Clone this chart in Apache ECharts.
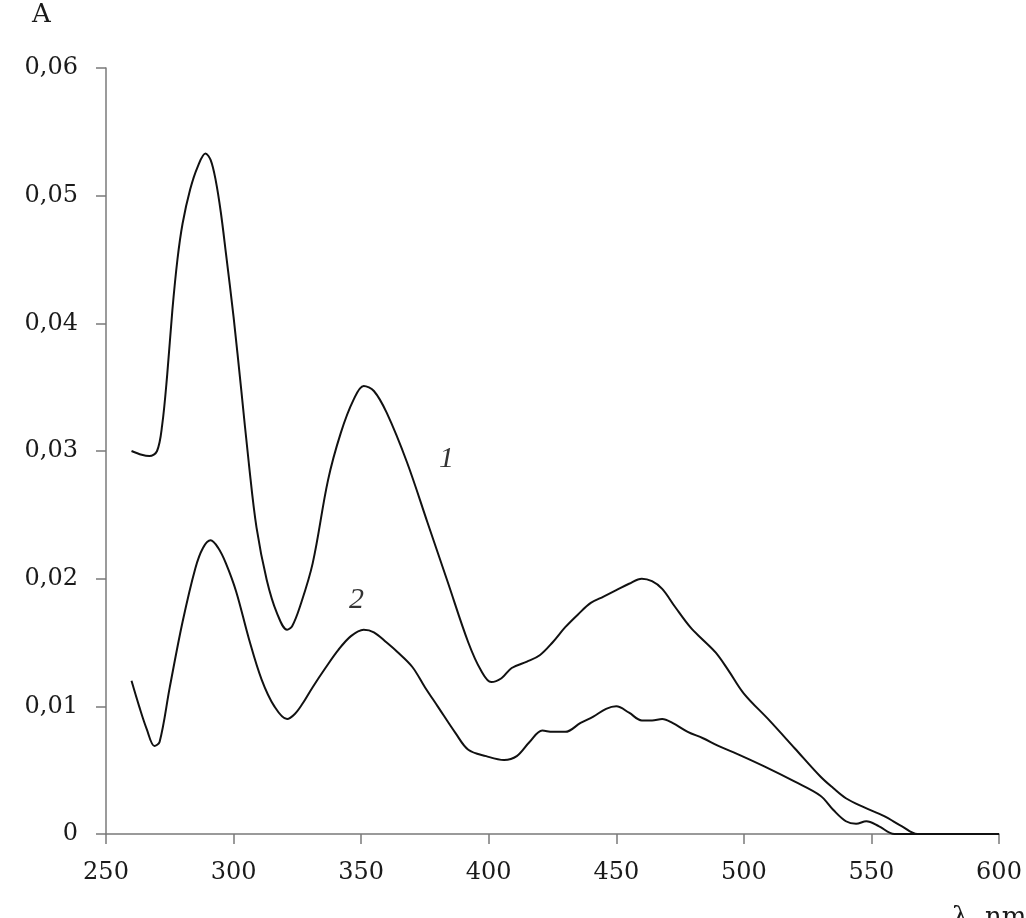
<!DOCTYPE html>
<html>
<head>
<meta charset="utf-8">
<script src="https://cdn.jsdelivr.net/npm/echarts@6/dist/echarts.min.js"></script>
<style>html,body{margin:0;padding:0;background:#fff}#c{width:1026px;height:918px}</style>
</head>
<body>
<div id="c"></div>
<script>
const xTicks = [250, 300, 350, 400, 450, 500, 550, 600];
const yTicks = [0, 0.01, 0.02, 0.03, 0.04, 0.05, 0.06];

const wavelength1 = [260,264,267,270,272,274,276,278,280,283,286,289,291,293,295,297,300,303,306,309,313,317,321,323,326,331,337,342,347,351,355,360,368,376,384,392,397,401,405,409,415,420,425,430,435,440,445,450,455,460,464,468,473,479,484,489,494,500,510,520,530,535,540,547,555,562,568,580,600];
const absorb1 = [0.0300,0.0297,0.0296,0.0300,0.0320,0.0360,0.0410,0.0450,0.0478,0.0505,0.0523,0.0533,0.0528,0.0512,0.0487,0.0455,0.0405,0.0348,0.0290,0.0240,0.0199,0.0173,0.0160,0.0163,0.0178,0.0212,0.0277,0.0314,0.0340,0.0351,0.0347,0.0330,0.0291,0.0244,0.0197,0.0150,0.0128,0.0119,0.0122,0.0130,0.0135,0.0140,0.0150,0.0162,0.0172,0.0181,0.0186,0.0191,0.0196,0.0200,0.0198,0.0192,0.0178,0.0162,0.0152,0.0142,0.0128,0.0110,0.0089,0.0067,0.0045,0.0036,0.0028,0.0021,0.0014,0.0006,0.0000,0,0];

const wavelength2 = [260,263,266,269,271,275,280,285,288,291,294,297,301,306,311,316,321,324,327,331,336,341,346,351,355,360,364,370,375,380,387,392,399,406,411,416,421,425,430,436,441,446,450,455,460,464,468,472,478,484,490,496,508,520,530,535,540,544,548,553,559,600];
const absorb2 = [0.0120,0.0100,0.0082,0.0069,0.0072,0.0115,0.0166,0.0208,0.0224,0.0230,0.0224,0.0212,0.0190,0.0153,0.0121,0.0100,0.0090,0.0094,0.0102,0.0115,0.0130,0.0144,0.0155,0.0160,0.0158,0.0150,0.0143,0.0131,0.0115,0.0100,0.0079,0.0066,0.0061,0.0058,0.0061,0.0072,0.0081,0.0080,0.0080,0.0087,0.0092,0.0098,0.0100,0.0095,0.0089,0.0089,0.0090,0.0087,0.0080,0.0075,0.0069,0.0064,0.0053,0.0041,0.0030,0.0019,0.0010,0.0008,0.0010,0.0006,0.0000,0];

const curveLabels = ['1', '2'];
const labelPos = [[383.5, 0.0294], [348.2, 0.0183]];

const pairs = (xs, ys) => xs.map((x, i) => [x, ys[i]]);
const serif = '"DejaVu Serif", "Liberation Serif", serif';
const timesLike = '"Liberation Serif", "DejaVu Serif", serif';

const chart = echarts.init(document.getElementById('c'), null, {renderer: 'canvas'});
chart.setOption({
  animation: false,
  backgroundColor: '#fff',
  grid: {left: 106, right: 27, top: 68, bottom: 84, containLabel: false},
  xAxis: {
    type: 'value', min: xTicks[0], max: xTicks[xTicks.length - 1], interval: 50,
    axisLine: {lineStyle: {color: '#7a7a7a', width: 1.5}},
    axisTick: {show: true, length: 10, lineStyle: {color: '#7a7a7a', width: 1.5}},
    splitLine: {show: false},
    axisLabel: {fontFamily: serif, fontSize: 24, color: '#1a1a1a', margin: 27}
  },
  yAxis: {
    type: 'value', min: yTicks[0], max: yTicks[yTicks.length - 1], interval: 0.01,
    axisLine: {show: true, lineStyle: {color: '#7a7a7a', width: 1.5}},
    axisTick: {show: true, length: 10, lineStyle: {color: '#7a7a7a', width: 1.5}},
    splitLine: {show: false},
    axisLabel: {
      fontFamily: serif, fontSize: 24, color: '#1a1a1a', margin: 28,
      formatter: v => v === 0 ? '0' : v.toFixed(2).replace('.', ',')
    }
  },
  graphic: [
    {type: 'text', left: 32, top: 2, style: {text: 'A', font: '26px ' + serif, fill: '#1a1a1a'}},
    {type: 'text', left: 952, top: 905, style: {text: 'λ, nm', font: '26px ' + serif, fill: '#1a1a1a'}}
  ],
  series: [
    {
      type: 'line', data: pairs(wavelength1, absorb1), smooth: 0.35, showSymbol: false,
      lineStyle: {color: '#111', width: 2}
    },
    {
      type: 'line', data: pairs(wavelength2, absorb2), smooth: 0.35, showSymbol: false,
      lineStyle: {color: '#111', width: 2}
    },
    {
      type: 'scatter', symbolSize: 2, itemStyle: {color: 'rgba(0,0,0,0)'}, silent: true,
      data: labelPos.map((p, i) => ({value: p, name: curveLabels[i]})),
      label: {show: true, position: 'inside', formatter: p => p.name, fontFamily: timesLike, fontStyle: 'italic', fontSize: 30, color: '#000'}
    }
  ]
});
</script>
</body>
</html>
